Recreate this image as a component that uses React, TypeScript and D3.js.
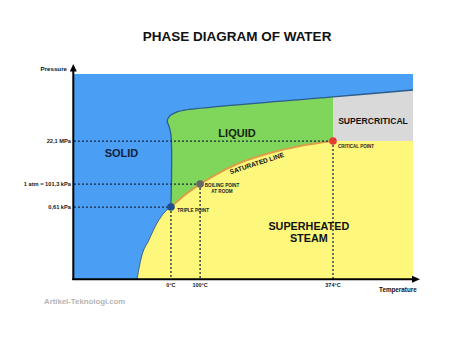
import React from "react";
import * as d3 from "d3";

// Schematic phase-diagram units: temperature axis 0..100, pressure axis 0..100
const sublimationCurve: [number, number][] = [
  [18.6, 0], [19.9, 10.7], [22.1, 19.0], [24.5, 27.3], [26.8, 32.7], [28.6, 35.1],
];
const saturatedCurve: [number, number][] = [
  [28.6, 35.1], [32.7, 41.0], [37.2, 46.3], [41.6, 50.7], [48.1, 56.1], [57.8, 61.5], [66.7, 64.9], [76.4, 67.3],
];
const fusionCurve: [number, number][] = [
  [28.6, 35.1], [28.6, 70.2], [28.0, 74.6], [27.5, 77.1], [28.3, 79.6], [30.4, 81.5], [32.7, 82.4], [76.4, 88.8], [100, 92.2],
];
const tempTicks = [
  { label: "0°C", t: 28.6, p: 35.1 },
  { label: "100°C", t: 37.2, p: 46.3 },
  { label: "374°C", t: 76.4, p: 67.3 },
];
const pressureTicks = [
  { label: "22,1 MPa", t: 76.4, p: 67.3 },
  { label: "1 atm = 101,3 kPa", t: 37.2, p: 46.3 },
  { label: "0,61 kPa", t: 28.6, p: 35.1 },
];
const specialPoints = [
  { name: "triple", t: 28.6, p: 35.1, color: "#1f4f8a" },
  { name: "boiling", t: 37.2, p: 46.3, color: "#666666" },
  { name: "critical", t: 76.4, p: 67.3, color: "#e53c32" },
];
const criticalT = 76.4;
const criticalP = 67.3;

const FONT = "'Liberation Sans', Arial, Helvetica, sans-serif";

export default function App() {
  const x = d3.scaleLinear().domain([0, 100]).range([74, 413]);
  const y = d3.scaleLinear().domain([0, 100]).range([279, 74]);

  const lineMono = d3.line<[number, number]>().x(d => x(d[0])).y(d => y(d[1])).curve(d3.curveMonotoneX);
  const lineCR = d3.line<[number, number]>().x(d => x(d[0])).y(d => y(d[1])).curve(d3.curveCatmullRom.alpha(0.5));
  const cont = (s: string | null) => (s || "").replace(/^M/, "L");

  const fusionPath = lineCR(fusionCurve) || "";
  const satPath = lineMono(saturatedCurve) || "";
  const satRev = lineMono([...saturatedCurve].reverse() as [number, number][]) || "";
  const sublPath = lineMono(sublimationCurve) || "";

  const greenPath =
    fusionPath + `L${x(100)},${y(criticalP)}L${x(criticalT)},${y(criticalP)}` + cont(satRev) + "Z";
  const topAtCrit = fusionCurve[7][1];
  const greyPath = `M${x(criticalT)},${y(criticalP)}L${x(criticalT)},${y(topAtCrit)}L${x(100)},${y(92.2)}L${x(100)},${y(criticalP)}Z`;
  const yellowPath = sublPath + cont(satPath) + `L${x(100)},${y(criticalP)}L${x(100)},${y(0)}Z`;

  const dash = { stroke: "#1b2940", strokeWidth: 1.3, strokeDasharray: "2,2", fill: "none" };

  return (
    <svg width={474} height={355} style={{ position: "absolute", left: 0, top: 0, background: "#fff" }} fontFamily={FONT}>
      <text x={237} y={41} textAnchor="middle" fontSize={13.5} fontWeight="bold" fill="#111">PHASE DIAGRAM OF WATER</text>

      <rect x={x(0)} y={y(100)} width={x(100) - x(0)} height={y(0) - y(100)} fill="#4a9ef3" />
      <path d={greenPath} fill="#7fd65a" />
      <path d={greyPath} fill="#d9d9d9" />
      <path d={yellowPath} fill="#fdf77c" />
      <path d={fusionPath} fill="none" stroke="#2c5d8c" strokeWidth={1.3} />
      <path d={sublPath} fill="none" stroke="#3d5a78" strokeWidth={0.9} />
      <path d={satPath} fill="none" stroke="#d9a048" strokeWidth={2} />

      {pressureTicks.map(d => (
        <g key={d.label}>
          <line x1={x(0)} x2={x(d.t)} y1={y(d.p)} y2={y(d.p)} {...dash} />
          <text x={71} y={y(d.p) + 2} textAnchor="end" fontSize={5.7} fontWeight="bold" fill="#1a1a1a">{d.label}</text>
        </g>
      ))}
      {tempTicks.map(d => (
        <g key={d.label}>
          <line x1={x(d.t)} x2={x(d.t)} y1={y(d.p)} y2={y(0)} {...dash} />
          <text x={x(d.t)} y={287} textAnchor="middle" fontSize={5.5} fontWeight="bold" fill="#1a1a1a">{d.label}</text>
        </g>
      ))}

      {specialPoints.map(d => (
        <circle key={d.name} cx={x(d.t)} cy={y(d.p)} r={3.8} fill={d.color} />
      ))}

      <text x={121.5} y={157} textAnchor="middle" fontSize={11} fontWeight="bold" fill="#0f2340">SOLID</text>
      <text x={237} y={137} textAnchor="middle" fontSize={11} fontWeight="bold" fill="#15240f">LIQUID</text>
      <text x={373} y={123.5} textAnchor="middle" fontSize={8.6} fontWeight="bold" fill="#111">SUPERCRITICAL</text>
      <text x={308.8} y={230} textAnchor="middle" fontSize={10.8} fontWeight="bold" fill="#111">SUPERHEATED</text>
      <text x={308.8} y={242} textAnchor="middle" fontSize={10.8} fontWeight="bold" fill="#111">STEAM</text>
      <text transform="translate(257.5,165.5) rotate(-18)" textAnchor="middle" fontSize={6.6} fontWeight="bold" fill="#111">SATURATED LINE</text>
      <text x={338} y={147.5} fontSize={4.5} fontWeight="bold" fill="#222">CRITICAL POINT</text>
      <text x={222} y={187} textAnchor="middle" fontSize={4.6} fontWeight="bold" fill="#222">BOILING POINT</text>
      <text x={222} y={192.7} textAnchor="middle" fontSize={4.6} fontWeight="bold" fill="#222">AT ROOM</text>
      <text x={177.3} y={211.7} fontSize={4.6} fontWeight="bold" fill="#222">TRIPLE POINT</text>

      {/* axes */}
      <line x1={73.3} x2={73.3} y1={280} y2={70} stroke="#000" strokeWidth={2} />
      <path d="M73.3,64 L69.8,71.5 L76.8,71.5 Z" fill="#000" />
      <line x1={72.3} x2={413} y1={279.3} y2={279.3} stroke="#000" strokeWidth={2} />
      <path d="M420,279.3 L412,275.8 L412,282.8 Z" fill="#000" />
      <text x={67} y={70.7} textAnchor="end" fontSize={6.2} fontWeight="bold" fill="#111">Pressure</text>
      <text x={379} y={292.3} fontSize={6.3} fontWeight="bold" fill="#111">Temperature</text>

      <text x={44} y={304} fontSize={7.8} fontWeight="bold" fill="#b5b5b5">Artikel-Teknologi.com</text>
    </svg>
  );
}
